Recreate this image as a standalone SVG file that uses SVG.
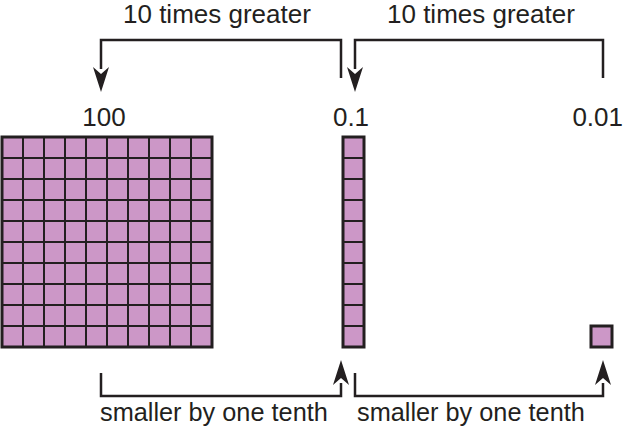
<svg xmlns="http://www.w3.org/2000/svg" width="625" height="441" viewBox="0 0 625 441">
<style>
text{font-family:"Liberation Sans",Arial,sans-serif;font-size:26px;fill:#231f20}
.sm{font-size:25.3px}
.blk{fill:#cc97c7;stroke:#231f20;stroke-width:3}
.grid{fill:none;stroke:#231f20;stroke-width:2}
.con{fill:none;stroke:#231f20;stroke-width:2.5;marker-end:url(#ah)}
</style>
<defs>
<marker id="ah" markerUnits="userSpaceOnUse" viewBox="-4 -9 30 18" markerWidth="30" markerHeight="18" refX="0" refY="0" orient="auto">
<path d="M23,0 L-2,-8 L5,0 L-2,8 Z" fill="#231f20"/>
</marker>
</defs>
<g id="labels">
<text x="123" y="23">10 times greater</text>
<text x="387" y="23">10 times greater</text>
<text x="104" y="126" text-anchor="middle">100</text>
<text x="351" y="126" text-anchor="middle">0.1</text>
<text x="623" y="126" text-anchor="end">0.01</text>
<text class="sm" x="100" y="421">smaller by one tenth</text>
<text class="sm" x="357" y="421">smaller by one tenth</text>
</g>
<g id="hundred">
<rect class="blk" x="2" y="137" width="210" height="210"/>
<path class="grid" d="M23,137V347M44,137V347M65,137V347M86,137V347M107,137V347M128,137V347M149,137V347M170,137V347M191,137V347M2,158H212M2,179H212M2,200H212M2,221H212M2,242H212M2,263H212M2,284H212M2,305H212M2,326H212"/>
</g>
<g id="tenth">
<rect class="blk" x="343" y="137" width="21" height="210"/>
<path class="grid" d="M343,158H364M343,179H364M343,200H364M343,221H364M343,242H364M343,263H364M343,284H364M343,305H364M343,326H364"/>
</g>
<g id="hundredth">
<rect class="blk" x="591" y="326" width="21" height="21"/>
</g>
<g id="connectors">
<path class="con" d="M341,78V40H101V69"/>
<path class="con" d="M603,78V40H355V69"/>
<path class="con" d="M101,373V396H341V383"/>
<path class="con" d="M355,373V396H603V383"/>
</g>
</svg>
